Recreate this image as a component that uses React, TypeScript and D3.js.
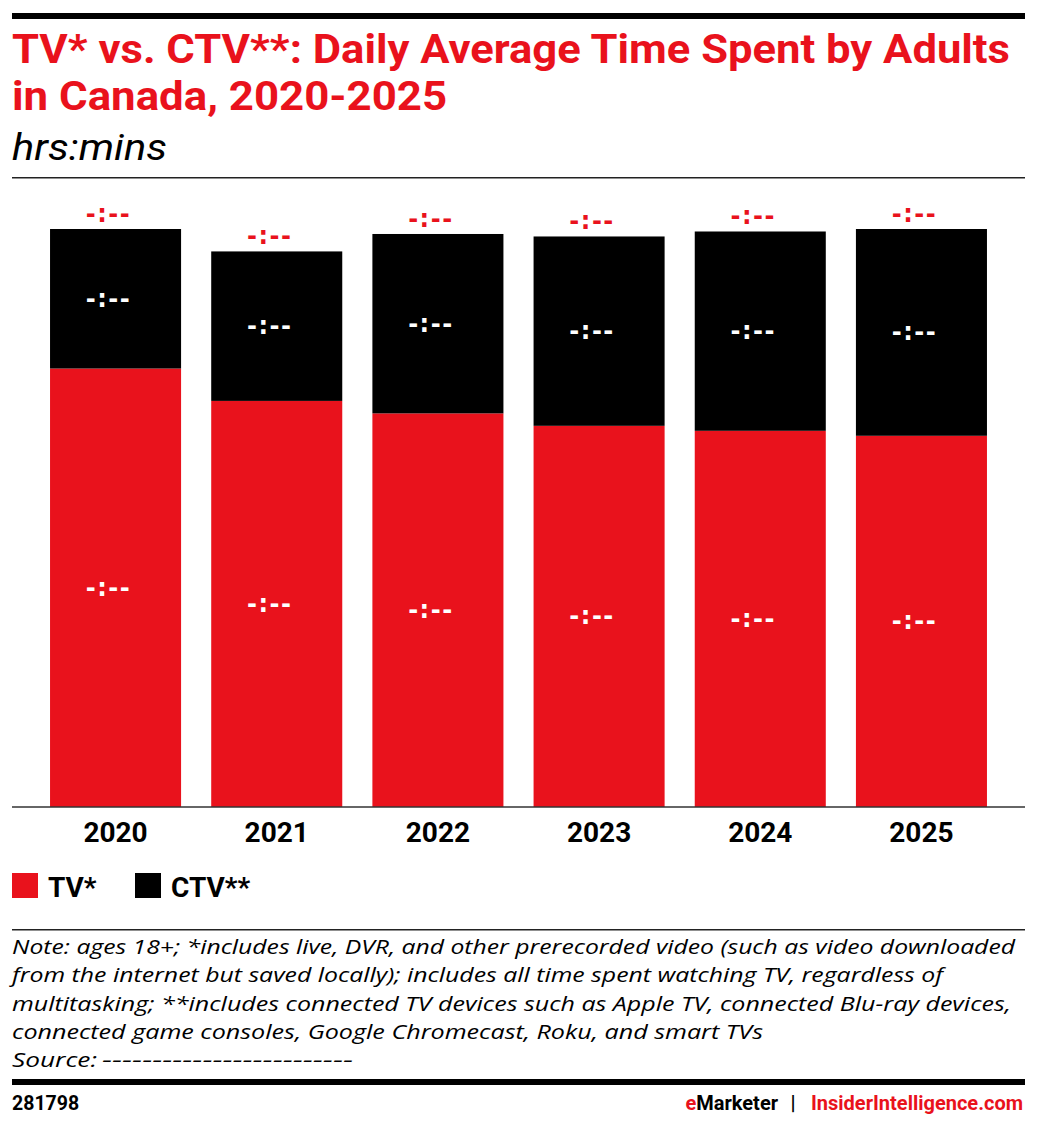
import React, { useEffect } from 'react';
import * as d3 from 'd3';

// Daily time spent, in minutes
const years = ['2020', '2021', '2022', '2023', '2024', '2025'];
const tvMinutes = [176, 163, 158, 153, 151, 149];
const ctvMinutes = [56, 60, 72, 76, 80, 83];
const valueLabel = '-:--';

const legendItems = [
  { label: 'TV*', color: '#e9121c' },
  { label: 'CTV**', color: '#000000' },
];

const noteLines = [
  'Note: ages 18+; *includes live, DVR, and other prerecorded video (such as video downloaded',
  'from the internet but saved locally); includes all time spent watching TV, regardless of',
  'multitasking; **includes connected TV devices such as Apple TV, connected Blu-ray devices,',
  'connected game consoles, Google Chromecast, Roku, and smart TVs',
];
const noteWidths = [1003, 931, 999, 751];
const sourceLabel = 'Source:';
const sourceValue = '-------------------------';

const RED = '#e9121c';
const W = 1038;
const H = 1128;
const baseY = 807;

const App: React.FC = () => {
  useEffect(() => {
    document.body.style.margin = '0';
  }, []);

  const x = d3
    .scaleBand<string>()
    .domain(years)
    .range([12, 1025])
    .paddingInner(0.187)
    .paddingOuter(0.236);

  const totals = years.map((_, i) => tvMinutes[i] + ctvMinutes[i]);
  const y = d3
    .scaleLinear()
    .domain([0, d3.max(totals) as number])
    .range([baseY, 229]);

  const labelFont = "'DejaVu Sans', sans-serif";
  const sans = 'Roboto, sans-serif';
  const noteFont = "'Open Sans', sans-serif";
  const sourceY = 954 + 4 * 28.3;

  const valueText = (cx: number, cy: number, fill: string) => (
    <text x={cx} y={cy} textAnchor="middle" fontFamily={labelFont} fontWeight={700}
      fontSize={24} letterSpacing={1.5} fill={fill}>{valueLabel}</text>
  );

  return (
    <svg width={W} height={H} style={{ display: 'block', background: '#fff' }}>
      {/* header */}
      <rect x={12} y={13} width={1013} height={6} fill="#000" />
      <text x={12} y={63} fontFamily={sans} fontWeight={700} fontSize={41} fill={RED}
        textLength={998} lengthAdjust="spacingAndGlyphs">
        TV* vs. CTV**: Daily Average Time Spent by Adults
      </text>
      <text x={12} y={110} fontFamily={sans} fontWeight={700} fontSize={41} fill={RED}
        textLength={435} lengthAdjust="spacingAndGlyphs">
        in Canada, 2020-2025
      </text>
      <text x={12} y={160} fontFamily={sans} fontStyle="italic" fontSize={37} fill="#000"
        textLength={155} lengthAdjust="spacingAndGlyphs">
        hrs:mins
      </text>
      <rect x={12} y={177} width={1013} height={1.5} fill="#222" />

      {/* stacked bars */}
      {years.map((yr, i) => {
        const x0 = x(yr) as number;
        const bw = x.bandwidth();
        const cx = x0 + bw / 2 - 7;
        const tvTop = y(tvMinutes[i]);
        const top = y(totals[i]);
        return (
          <g key={yr}>
            <rect x={x0} y={tvTop} width={bw} height={baseY - tvTop} fill={RED} />
            <rect x={x0} y={top} width={bw} height={tvTop - top} fill="#000" />
            {valueText(cx, (tvTop + baseY) / 2 + 8, '#fff')}
            {valueText(cx, (top + tvTop) / 2 + 8, '#fff')}
            {valueText(cx, top - 7, RED)}
            <text x={x0 + bw / 2} y={842} textAnchor="middle" fontFamily={sans}
              fontWeight={700} fontSize={28} fill="#000">{yr}</text>
          </g>
        );
      })}
      <line x1={12} x2={1025} y1={baseY} y2={baseY} stroke="#333" strokeWidth={1.5} />

      {/* legend */}
      {legendItems.map((item, i) => {
        const lx = i === 0 ? 12 : 135;
        return (
          <g key={item.label}>
            <rect x={lx} y={873} width={26} height={25} fill={item.color} />
            <text x={lx + 36} y={897} fontFamily={sans} fontWeight={700} fontSize={28} fill="#000">
              {item.label}
            </text>
          </g>
        );
      })}

      {/* notes */}
      <rect x={12} y={929} width={1013} height={1.5} fill="#222" />
      {noteLines.map((line, i) => (
        <text key={i} x={12} y={954 + i * 28.3} fontFamily={noteFont} fontStyle="italic" fontSize={19.5}
          fill="#000" textLength={noteWidths[i]} lengthAdjust="spacingAndGlyphs">
          {line}
        </text>
      ))}
      <text x={12} y={sourceY} fontFamily={noteFont} fontStyle="italic" fontSize={20.5} fill="#000"
        textLength={85} lengthAdjust="spacingAndGlyphs">
        {sourceLabel}
      </text>
      <text x={102} y={sourceY} fontFamily={noteFont} fontStyle="italic" fontSize={20.5} fill="#000"
        textLength={251} lengthAdjust="spacingAndGlyphs">
        {sourceValue}
      </text>
      <rect x={12} y={1079} width={1013} height={6} fill="#000" />

      {/* footer */}
      <text x={12} y={1110} fontFamily={sans} fontWeight={700} fontSize={19.5} fill="#000">281798</text>
      <text x={778} y={1110} textAnchor="end" fontFamily={sans} fontWeight={700} fontSize={20} fill="#000">
        <tspan fill={RED}>e</tspan>Marketer
      </text>
      <text x={793} y={1110} textAnchor="middle" fontFamily={sans} fontWeight={700} fontSize={20} fill="#000">|</text>
      <text x={1023} y={1110} textAnchor="end" fontFamily={sans} fontWeight={700} fontSize={20} fill={RED}>
        InsiderIntelligence.com
      </text>
    </svg>
  );
};

export default App;
